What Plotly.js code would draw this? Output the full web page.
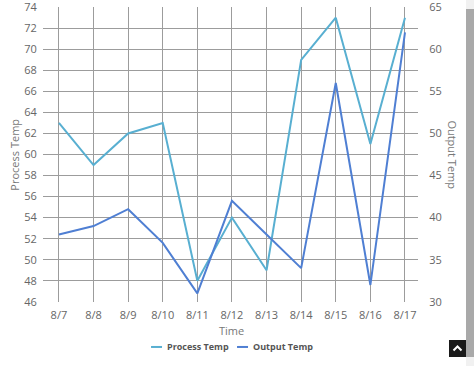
<!DOCTYPE html>
<html>
<head>
<meta charset="utf-8">
<script src="https://cdn.plot.ly/plotly-3.0.1.min.js"></script>
<style>
html,body{margin:0;padding:0;overflow:hidden;background:#fff;}
#chart{width:474px;height:366px;}
#sbar{position:absolute;left:466px;top:0;width:8px;height:366px;background:#f1f1f1;}
#thumb{position:absolute;left:466px;top:9px;width:8px;height:348px;background:#a9a9a9;}
#topbtn{position:absolute;left:449px;top:340px;width:17px;height:17px;background:#1a1a1a;}
</style>
</head>
<body>
<div id="chart"></div>
<div id="sbar"></div>
<div id="thumb"></div>
<div id="topbtn"><svg width="17" height="17"><polyline points="4.5,10.5 8.5,6.5 12.5,10.5" fill="none" stroke="#fff" stroke-width="2"/></svg></div>
<script>
var dates = ["8/7","8/8","8/9","8/10","8/11","8/12","8/13","8/14","8/15","8/16","8/17"];
var processTemp = [63, 59, 62, 63, 48, 54, 49, 69, 73, 61, 73];
var outputTemp = [38, 39, 41, 37, 31, 42, 38, 34, 56, 32, 62];
var leftTicks = [46,48,50,52,54,56,58,60,62,64,66,68,70,72,74];
var rightTicks = [30,35,40,45,50,55,60,65];

var fontFam = '"Open Sans", sans-serif';
var traces = [
  {x: dates, y: processTemp, name: "Process Temp", type: "scatter", mode: "lines",
   line: {color: "#58afd1", width: 2}, yaxis: "y"},
  {x: dates, y: outputTemp, name: "Output Temp", type: "scatter", mode: "lines",
   line: {color: "#4f7fd3", width: 2}, yaxis: "y2"}
];
var layout = {
  width: 474, height: 366,
  margin: {l: 43, r: 56, t: 7, b: 64},
  paper_bgcolor: "#fff", plot_bgcolor: "#fff",
  font: {family: fontFam, size: 11, color: "#666"},
  showlegend: true,
  legend: {orientation: "h", x: 0.268, xref: "container", xanchor: "left",
           y: 0.052, yref: "container", yanchor: "middle",
           entrywidth: 41, entrywidthmode: "pixels",
           font: {family: fontFam, size: 9, color: "#555", weight: "bold"}},
  xaxis: {type: "category", range: [-0.46, 10.376], showgrid: true, gridcolor: "#9c9c9c",
          gridwidth: 1, zeroline: false, showline: false, ticks: "outside", ticklen: 3,
          tickcolor: "rgba(0,0,0,0)", automargin: false, tickfont: {size: 11, color: "#666"}},
  yaxis: {range: [45.98, 74.02], tickvals: leftTicks, showgrid: true, gridcolor: "#9c9c9c",
          zeroline: false, showline: false, ticks: "outside", ticklen: 3, tickcolor: "rgba(0,0,0,0)",
          automargin: false, ticklabeloverflow: "allow", tickfont: {size: 11, color: "#666"}},
  yaxis2: {range: [29.975, 65.025], tickvals: rightTicks, overlaying: "y", side: "right", showgrid: false,
           zeroline: false, showline: false, ticks: "outside", ticklen: 8, tickcolor: "rgba(0,0,0,0)",
           automargin: false, ticklabeloverflow: "allow", tickfont: {size: 11, color: "#666"}},
  annotations: [
    {text: "Time", xref: "paper", yref: "paper", x: 0.503, y: -0.095, xanchor: "center",
     yanchor: "middle", showarrow: false, font: {size: 11, color: "#777"}},
    {text: "Process Temp", xref: "paper", yref: "paper", x: -0.077, y: 0.5, xanchor: "center",
     yanchor: "middle", textangle: -90, showarrow: false, font: {size: 11, color: "#777"}},
    {text: "Output Temp", xref: "paper", yref: "paper", x: 1.091, y: 0.5, xanchor: "center",
     yanchor: "middle", textangle: 90, showarrow: false, font: {size: 11, color: "#777"}}
  ]
};
Plotly.newPlot("chart", traces, layout, {displayModeBar: false, staticPlot: true}).then(function(gd){
  gd.querySelectorAll(".legend .legendlines path").forEach(function(p){ p.setAttribute("d", "M24,0h11"); });
  gd.querySelectorAll(".legend [clip-path]").forEach(function(el){ el.removeAttribute("clip-path"); });
  gd.querySelectorAll(".legend .bg").forEach(function(el){ el.setAttribute("fill-opacity", "0"); });
});
</script>
</body>
</html>
